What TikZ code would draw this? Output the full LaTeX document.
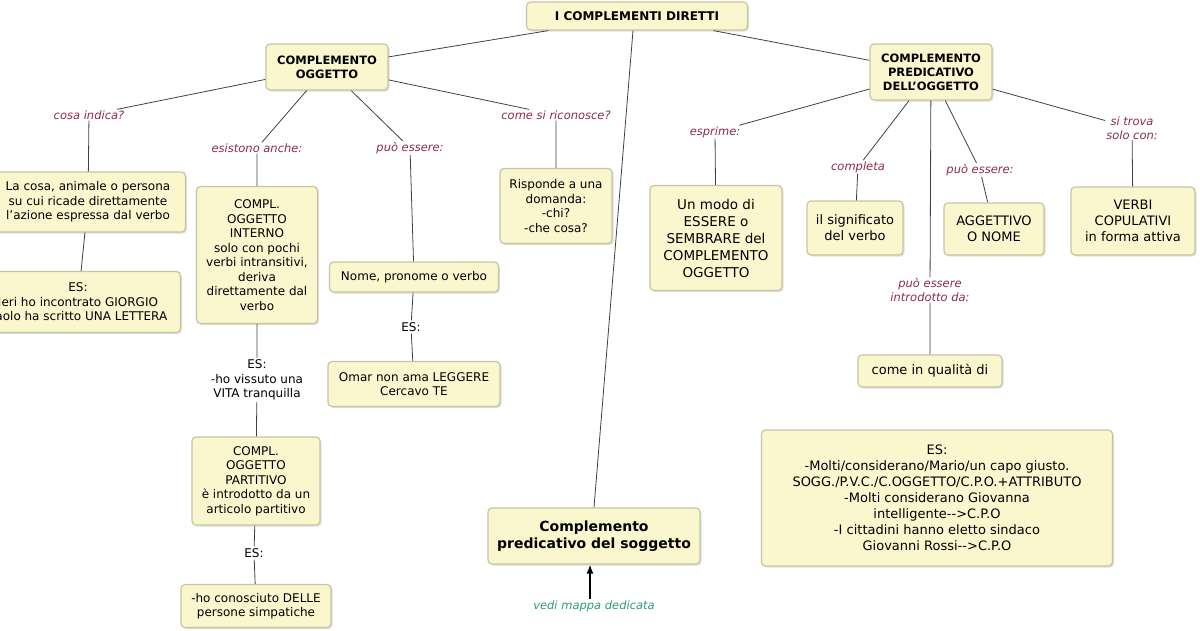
\documentclass[tikz,border=0pt]{standalone}
\usepackage{fontspec}
\setmainfont{DejaVu Sans}
\usetikzlibrary{shadows,arrows.meta}
\definecolor{boxfill}{HTML}{FAF7CF}
\definecolor{boxline}{HTML}{C9C3A0}
\definecolor{linkred}{HTML}{8E2A4A}
\definecolor{linkgreen}{HTML}{2E9A78}
\tikzset{
  concept/.style={rectangle, rounded corners=4pt, draw=boxline, line width=1.2pt,
                  fill=boxfill, align=center, inner sep=4pt,
                  font=\fontsize{12}{14.5}\selectfont,
                  drop shadow={opacity=0.25, shadow xshift=1.5pt, shadow yshift=-1.5pt}},
  head/.style={concept, font=\fontsize{11.5}{14}\bfseries\selectfont},
  link/.style={align=center, inner sep=1pt, text=linkred,
               font=\fontsize{11.5}{13.5}\itshape\selectfont},
  plain/.style={align=center, inner sep=2pt, font=\fontsize{12}{14.5}\selectfont},
  conn/.style={draw=black!75, line width=0.8pt},
}
\begin{document}
\begin{tikzpicture}[x=1pt, y=-1pt]
\useasboundingbox (0,0) rectangle (1200,630);
% main concepts
\node[head, font=\fontsize{12}{14}\bfseries\selectfont, minimum width=221pt, minimum height=28pt] (title) at (637,16) {I COMPLEMENTI DIRETTI};
\node[head, minimum width=122pt, minimum height=46pt] (co) at (327,67) {COMPLEMENTO\\OGGETTO};
\node[head, minimum width=122pt, minimum height=56pt] (cpo) at (931,72) {COMPLEMENTO\\PREDICATIVO\\DELL'OGGETTO};
\node[concept, font=\fontsize{14}{17}\bfseries\selectfont, minimum width=212pt, minimum height=56pt] (cps) at (594,536) {Complemento\\predicativo del soggetto};
% complemento oggetto
\node[link] (indica) at (89,115) {cosa indica?};
\node[link] (esistono) at (257,148) {esistono anche:};
\node[link] (puo) at (410,148) {può essere:};
\node[link] (riconosce) at (556,115) {come si riconosce?};
\node[concept, minimum width=195pt, minimum height=60pt] (cosa) at (88,202) {La cosa, animale o persona\\su cui ricade direttamente\\l'azione espressa dal verbo};
\node[concept, minimum width=205pt, minimum height=61pt] (esempio) at (78,302) {ES:\\Ieri ho incontrato GIORGIO\\Paolo ha scritto UNA LETTERA};
\node[concept, minimum width=121pt, minimum height=137pt] (interno) at (257,255) {COMPL.\\OGGETTO\\INTERNO\\solo con pochi\\verbi intransitivi,\\deriva\\direttamente dal\\verbo};
\node[plain] (esinterno) at (257,380) {ES:\\-ho vissuto una\\VITA tranquilla};
\node[concept, minimum width=128pt, minimum height=88pt] (partitivo) at (256,481) {COMPL.\\OGGETTO\\PARTITIVO\\è introdotto da un\\articolo partitivo};
\node[plain] (espartitivo) at (254,553) {ES:};
\node[concept, minimum width=150pt, minimum height=43pt] (delle) at (256,606) {-ho conosciuto DELLE\\persone simpatiche};
\node[concept, minimum width=169pt, minimum height=30pt] (nome) at (414,277) {Nome, pronome o verbo};
\node[plain] (esnome) at (411,327) {ES:};
\node[concept, minimum width=172pt, minimum height=45pt] (omar) at (414,384) {Omar non ama LEGGERE\\Cercavo TE};
\node[concept, minimum width=112pt, minimum height=75pt] (risponde) at (556,206) {Risponde a una\\domanda:\\-chi?\\-che cosa?};
% complemento predicativo dell'oggetto
\node[link] (esprime) at (715,132) {esprime:};
\node[link] (completa) at (858,167) {completa};
\node[link] (puo2) at (980,170) {può essere:};
\node[link] (trova) at (1132,128) {si trova\\solo con:};
\node[link] (introdotto) at (930,290) {può essere\\introdotto da:};
\node[concept, font=\fontsize{13.5}{17}\selectfont, minimum width=132pt, minimum height=105pt] (modo) at (716,238) {Un modo di\\ESSERE o\\SEMBRARE del\\COMPLEMENTO\\OGGETTO};
\node[concept, font=\fontsize{13}{16}\selectfont, minimum width=96pt, minimum height=54pt] (significato) at (855,228) {il significato\\del verbo};
\node[concept, font=\fontsize{13}{16}\selectfont, minimum width=100pt, minimum height=52pt] (aggettivo) at (994,229) {AGGETTIVO\\O NOME};
\node[concept, font=\fontsize{13}{16}\selectfont, minimum width=124pt, minimum height=68pt] (verbi) at (1133,221) {VERBI\\COPULATIVI\\in forma attiva};
\node[concept, font=\fontsize{13}{16}\selectfont, minimum width=144pt, minimum height=32pt] (qualita) at (930,371) {come in qualità di};
\node[concept, font=\fontsize{13}{16}\selectfont, minimum width=351pt, minimum height=136pt] (esempi) at (937,498) {ES:\\-Molti/considerano/Mario/un capo giusto.\\SOGG./P.V.C./C.OGGETTO/C.P.O.+ATTRIBUTO\\-Molti considerano Giovanna\\intelligente{-}{-}>C.P.O\\-I cittadini hanno eletto sindaco\\Giovanni Rossi{-}{-}>C.P.O};
\node[link, text=linkgreen] (vedi) at (594,606) {vedi mappa dedicata};
% connectors
\draw[conn] (title) -- (co);
\draw[conn] (title) -- (cpo);
\draw[conn] (title.south) ++(-4,0) coordinate (tt) -- (cps.north);
\draw[conn] (co) -- (indica) -- (cosa) -- (esempio);
\draw[conn] (co) -- (esistono) -- (interno) -- (esinterno) -- (partitivo) -- (espartitivo) -- (delle);
\draw[conn] (co) -- (puo) -- (nome) -- (esnome) -- (omar);
\draw[conn] (co) -- (riconosce) -- (risponde);
\draw[conn] (cpo) -- (esprime) -- (modo);
\draw[conn] (cpo) -- (completa) -- (significato);
\draw[conn] (cpo) -- (puo2) -- (aggettivo);
\draw[conn] (cpo) -- (trova) -- (verbi);
\draw[conn] (cpo) -- (introdotto) -- (qualita);
\draw[conn, -{Latex[length=9pt, width=7pt]}, line width=1.5pt, black] (vedi.north) ++(-4,0) coordinate (vv) -- ([xshift=-4pt]cps.south);
\end{tikzpicture}
\end{document}
